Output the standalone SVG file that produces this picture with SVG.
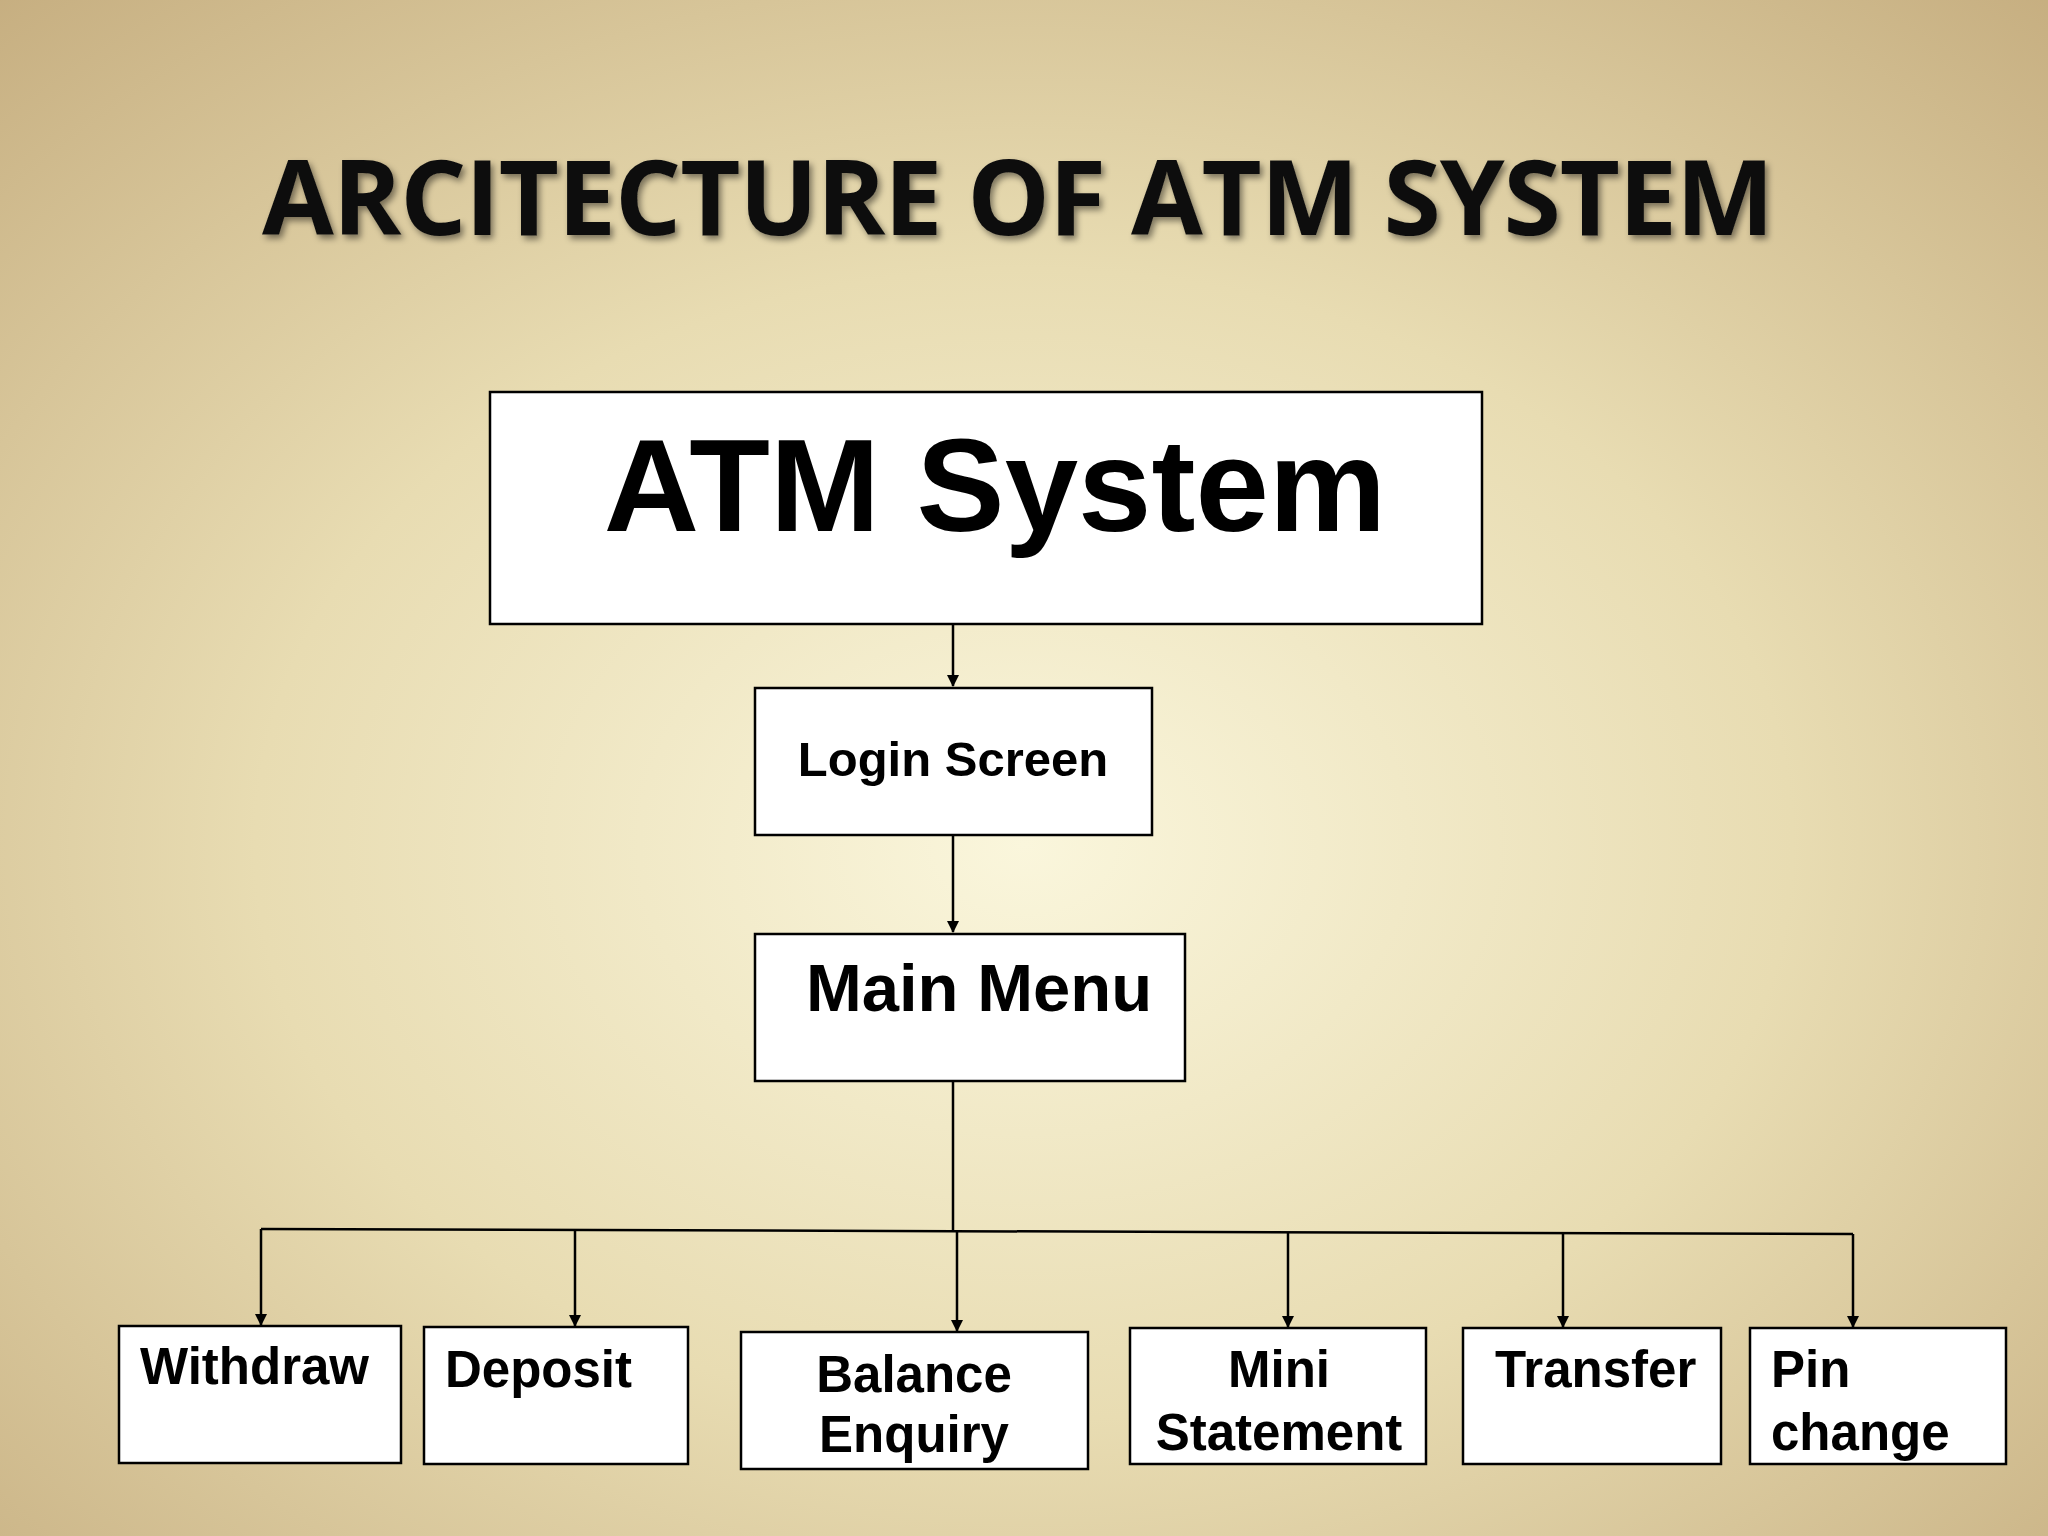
<svg xmlns="http://www.w3.org/2000/svg" width="2048" height="1536" viewBox="0 0 2048 1536">
<defs>
<radialGradient id="bg" cx="0.5" cy="0.55" r="0.75">
<stop offset="0" stop-color="#faf6dc"/>
<stop offset="0.5" stop-color="#e8dcb2"/>
<stop offset="1" stop-color="#c6ae80"/>
</radialGradient>
<filter id="sh" x="-5%" y="-20%" width="110%" height="140%"><feDropShadow dx="3" dy="4" stdDeviation="3" flood-color="#000" flood-opacity="0.45"/></filter>
<marker id="ah" markerWidth="12" markerHeight="12" refX="11" refY="6" orient="auto" markerUnits="userSpaceOnUse"><path d="M0,0 L12,6 L0,12 z" fill="#000"/></marker>
</defs>
<style>
.box{fill:#fff;stroke:#000;stroke-width:2.5}
.t{font-family:"Liberation Sans",Arial,sans-serif;font-weight:bold;fill:#000}
.s{font-size:51px}
.c{stroke:#000;stroke-width:2.5;fill:none}
</style>
<rect width="2048" height="1536" fill="url(#bg)"/>
<text x="1018" y="235" text-anchor="middle" font-family="'Open Sans','DejaVu Sans',sans-serif" font-weight="bold" font-size="104" fill="#111" filter="url(#sh)" textLength="1512">ARCITECTURE OF ATM SYSTEM</text>
<g id="connectors">
<line class="c" x1="953" y1="624" x2="953" y2="686" marker-end="url(#ah)"/>
<line class="c" x1="953" y1="835" x2="953" y2="932" marker-end="url(#ah)"/>
<line class="c" x1="953" y1="1081" x2="953" y2="1230"/>
<polyline class="c" points="261,1229 1853,1234"/>
<line class="c" x1="261" y1="1229" x2="261" y2="1325" marker-end="url(#ah)"/>
<line class="c" x1="575" y1="1230" x2="575" y2="1326" marker-end="url(#ah)"/>
<line class="c" x1="957" y1="1231" x2="957" y2="1331" marker-end="url(#ah)"/>
<line class="c" x1="1288" y1="1232" x2="1288" y2="1327" marker-end="url(#ah)"/>
<line class="c" x1="1563" y1="1233" x2="1563" y2="1327" marker-end="url(#ah)"/>
<line class="c" x1="1853" y1="1234" x2="1853" y2="1327" marker-end="url(#ah)"/>
</g>
<g id="atm"><rect class="box" x="490" y="392" width="992" height="232"/><text class="t" x="995" y="531" text-anchor="middle" font-size="132">ATM System</text></g>
<g id="login"><rect class="box" x="755" y="688" width="397" height="147"/><text class="t" x="953" y="776" text-anchor="middle" font-size="49">Login Screen</text></g>
<g id="menu"><rect class="box" x="755" y="934" width="430" height="147"/><text class="t" x="979" y="1011" text-anchor="middle" font-size="67">Main Menu</text></g>
<g id="withdraw"><rect class="box" x="119" y="1326" width="282" height="137"/><text class="t s" x="140" y="1384">Withdraw</text></g>
<g id="deposit"><rect class="box" x="424" y="1327" width="264" height="137"/><text class="t s" x="445" y="1387">Deposit</text></g>
<g id="balance"><rect class="box" x="741" y="1332" width="347" height="137"/><text class="t s" x="914" y="1392" text-anchor="middle">Balance</text><text class="t s" x="914" y="1452" text-anchor="middle">Enquiry</text></g>
<g id="mini"><rect class="box" x="1130" y="1328" width="296" height="136"/><text class="t s" x="1279" y="1387" text-anchor="middle">Mini</text><text class="t s" x="1279" y="1450" text-anchor="middle">Statement</text></g>
<g id="transfer"><rect class="box" x="1463" y="1328" width="258" height="136"/><text class="t s" x="1495" y="1387">Transfer</text></g>
<g id="pin"><rect class="box" x="1750" y="1328" width="256" height="136"/><text class="t s" x="1771" y="1387">Pin</text><text class="t s" x="1771" y="1450">change</text></g>
</svg>
